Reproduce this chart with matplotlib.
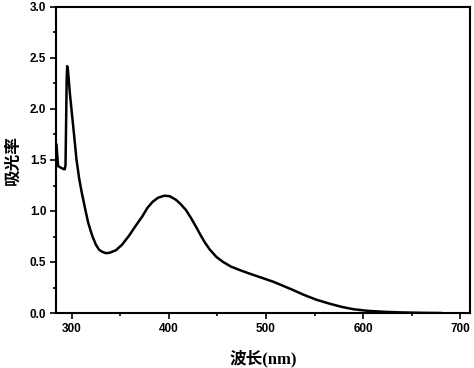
import matplotlib
matplotlib.use("Agg")
import matplotlib.pyplot as plt
from matplotlib.ticker import MultipleLocator

wavelength = [284.5, 285.5, 286.2, 288, 290, 292, 293, 293.8, 294.3, 295, 295.5, 296.3, 297.2, 298.2,
              300, 301.7, 303.5, 305, 307.8, 310.3, 312.5, 314.7, 317, 319.5, 321.6, 325, 328.4, 331.5,
              335.3, 339, 345.6, 352, 359.3, 366, 373, 378, 383.4, 389, 395.4, 401, 407.4, 412,
              417.7, 423, 428.4, 433, 436.6, 442.4, 449, 456, 464, 473.3, 485, 497.3, 508, 518,
              528, 538.5, 552, 566, 578, 590, 604, 621, 638, 659, 680]
absorbance = [1.65, 1.52, 1.44, 1.43, 1.42, 1.41, 1.41, 1.45, 1.80, 2.30, 2.42, 2.38, 2.28, 2.16,
              1.99, 1.83, 1.66, 1.51, 1.32, 1.19, 1.09, 0.99, 0.89, 0.81, 0.75, 0.67, 0.62, 0.60,
              0.587, 0.59, 0.615, 0.67, 0.76, 0.855, 0.95, 1.03, 1.09, 1.13, 1.15, 1.145, 1.11, 1.07,
              1.01, 0.93, 0.84, 0.76, 0.70, 0.62, 0.55, 0.50, 0.455, 0.42, 0.38, 0.34, 0.305, 0.265,
              0.225, 0.18, 0.13, 0.09, 0.06, 0.037, 0.022, 0.012, 0.006, 0.002, 0.0]
xticks = [300, 400, 500, 600, 700]
yticks = [0.0, 0.5, 1.0, 1.5, 2.0, 2.5, 3.0]

fig = plt.figure(figsize=(4.74, 3.68), dpi=100)
ax = fig.add_axes([56/474, 1-313/368, (470-56)/474, (313-7)/368])
ax.plot(wavelength, absorbance, color="black", lw=1.8, solid_joinstyle="round")
ax.set_xlim(284, 710)
ax.set_ylim(0, 3.0)
ax.set_xticks(xticks)
ax.set_yticks(yticks)
ax.set_xticklabels([str(v) for v in xticks])
ax.set_yticklabels([f"{v:.1f}" for v in yticks])
ax.xaxis.set_minor_locator(MultipleLocator(50))
ax.yaxis.set_minor_locator(MultipleLocator(0.25))
ax.tick_params(which="both", direction="out", top=False, right=False, width=1.2)
ax.tick_params(which="major", length=4, labelsize=8.5, pad=3)
ax.tick_params(which="minor", length=2.5)
for lab in ax.get_xticklabels() + ax.get_yticklabels():
    lab.set_fontweight("bold")
    lab.set_family("Liberation Sans")
for s in ax.spines.values():
    s.set_linewidth(1.5)

ax.set_xlabel("波长(nm)", family=["Liberation Serif", "Noto Sans CJK SC"], fontweight="bold",
              fontsize=12, labelpad=11)
ax.set_ylabel("吸光率", family=["Noto Sans CJK SC"], fontweight="bold", fontsize=12, labelpad=6)

fig.savefig("out.png", dpi=100)
